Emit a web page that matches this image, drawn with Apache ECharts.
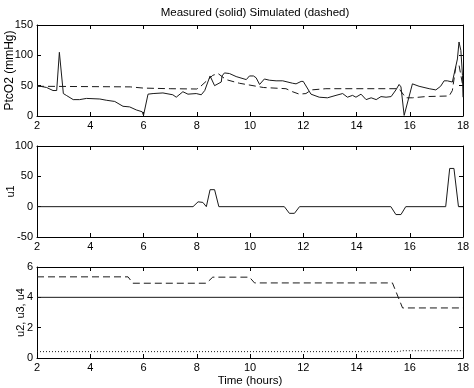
<!DOCTYPE html>
<html><head><meta charset="utf-8">
<script src="https://cdn.jsdelivr.net/npm/echarts@6/dist/echarts.min.js"></script>
<style>html,body{margin:0;padding:0;background:#fff}#c{width:474px;height:388px}</style>
</head><body><div id="c"></div>
<script>
// Panel 1: PtcO2 measured (solid)
const measX = [2,2.36,2.6,2.74,2.84,2.99,3.1,3.36,3.6,3.86,4.36,4.6,4.92,5.23,5.48,5.73,5.95,6.0,6.17,6.36,6.73,7.1,7.23,7.48,7.67,7.98,8.17,8.3,8.5,8.67,8.92,8.95,9.04,9.23,9.48,9.86,9.98,10.13,10.23,10.36,10.54,10.73,10.98,11.23,11.6,11.73,11.92,12.0,12.29,12.6,12.91,13.23,13.48,13.66,13.85,13.98,14.17,14.36,14.55,14.74,14.92,15.11,15.3,15.48,15.6,15.67,15.79,16.1,16.35,16.73,16.98,17.16,17.29,17.41,17.6,17.79,17.85,17.92,17.98,18];
const measY = [50,47,42,42,105,37,34,27,27,29,28,26,24,16,15,10,7,1,36,37,38,35,31,40,36,37,35,42,66,50,56,66,71,70,65,60,66,66,63,52,61,59,58,58,54,53,57,57,36,31,30,34,37,31,34,31,36,27,30,27,32,31,32,43,52,48,1,53,49,45,43,49,58,58,56,94,122,108,67,31];
// Panel 1: PtcO2 simulated (dashed)
const simX = [2,5.5,6.0,7.0,8.0,8.1,8.6,8.8,9.1,9.6,10.5,11.35,11.6,11.85,12.1,12.3,12.85,15.6,15.85,16.1,16.6,17.48,17.6,17.73,17.85,18];
const simY = [49,48,46,45,44.5,47,67,70,60,54,47,45,40,36,37,43,45,45,30,30,32,33,42,81,84,48];
// Panel 2: u1
const u1X = [2,7.86,8.05,8.23,8.36,8.5,8.67,8.83,11.29,11.48,11.67,11.86,15.29,15.48,15.67,15.85,17.35,17.5,17.66,17.83,18];
const u1Y = [0,0,8,7,0,28,28,0,0,-11,-11,0,0,-13,-13,0,0,63,63,0,0];
// Panel 3: u2 (solid), u3 (dashed), u4 (dotted)
const u2X = [2,18];
const u2Y = [4,4];
const u3X = [2,5.42,5.6,8.36,8.6,9.98,10.17,15.35,15.73,18];
const u3Y = [5.35,5.35,4.93,4.93,5.33,5.33,4.95,4.95,3.3,3.3];
const u4X = [2,15.6,15.7,18];
const u4Y = [0.42,0.42,0.48,0.48];
// Tick labels / axis ranges
const xTicks = [2,4,6,8,10,12,14,16,18];
const title = 'Measured (solid) Simulated (dashed)';
const yNames = ['PtcO2 (mmHg)','u1','u2, u3, u4'];
const xName = 'Time (hours)';

const zip = (xs, ys) => xs.map((x, i) => [x, ys[i]]);
const FONT = 'Liberation Sans';
const LC = '#1a1a1a';
const grids = [
  {left:37, right:11, top:25, height:91, outerBoundsMode:'none', containLabel:false},
  {left:37, right:11, top:146, height:91, outerBoundsMode:'none', containLabel:false},
  {left:37, right:11, top:267, height:91, outerBoundsMode:'none', containLabel:false}
];
const yRanges = [[0,150,50],[-50,100,50],[0,6,2]];
const nameGaps = [21,21,11];
const nameSizes = [12,11,11];

const xAxes = [], yAxes = [];
grids.forEach((g, i) => {
  const base = {type:'value', min:2, max:18, interval:2, gridIndex:i,
    axisLine:{show:true, onZero:false, lineStyle:{color:'#000', width:1}},
    axisTick:{show:true, inside:true, length:4, lineStyle:{color:'#000'}},
    splitLine:{show:false}};
  xAxes.push(Object.assign({}, base, {position:'bottom',
    axisLabel:{show:true, color:'#000', fontSize:11, fontFamily:FONT, margin:4},
    name: i === 2 ? xName : '', nameLocation:'middle', nameGap:17, nameMoveOverlap:false,
    nameTextStyle:{color:'#000', fontSize:11.5, fontFamily:FONT}}));
  xAxes.push(Object.assign({}, base, {position:'top', axisLabel:{show:false}}));
  const [mn, mx, iv] = yRanges[i];
  const yb = {type:'value', min:mn, max:mx, interval:iv, gridIndex:i,
    axisLine:{show:true, onZero:false, lineStyle:{color:'#000', width:1}},
    axisTick:{show:true, inside:true, length:4, lineStyle:{color:'#000'}},
    splitLine:{show:false}};
  yAxes.push(Object.assign({}, yb, {position:'left',
    axisLabel:{show:true, color:'#000', fontSize:11, fontFamily:FONT, margin:4},
    name: yNames[i], nameLocation:'middle', nameGap:nameGaps[i], nameMoveOverlap:false,
    nameTextStyle:{color:'#000', fontSize:nameSizes[i], fontFamily:FONT}}));
  yAxes.push(Object.assign({}, yb, {position:'right', axisLabel:{show:false}}));
});

function line(data, gi, type) {
  return {type:'line', data, xAxisIndex:gi*2, yAxisIndex:gi*2, showSymbol:false, symbol:'none',
    animation:false, silent:true,
    lineStyle:{color:LC, width:1, type: type === 'dashed' ? [7,4] : type === 'dotted' ? [1,2] : 'solid'}};
}

const chart = echarts.init(document.getElementById('c'), null, {renderer:'canvas'});
chart.setOption({
  animation:false,
  backgroundColor:'#fff',
  title:{text:title, left:250, textAlign:'center', top:2,
    textStyle:{fontSize:11.5, fontWeight:'normal', color:'#000', fontFamily:FONT}},
  grid: grids,
  xAxis: xAxes,
  yAxis: yAxes,
  series: [
    line(zip(simX, simY), 0, 'dashed'),
    line(zip(measX, measY), 0, 'solid'),
    line(zip(u1X, u1Y), 1, 'solid'),
    line(zip(u2X, u2Y), 2, 'solid'),
    line(zip(u3X, u3Y), 2, 'dashed'),
    line(zip(u4X, u4Y), 2, 'dotted')
  ]
});
</script></body></html>
